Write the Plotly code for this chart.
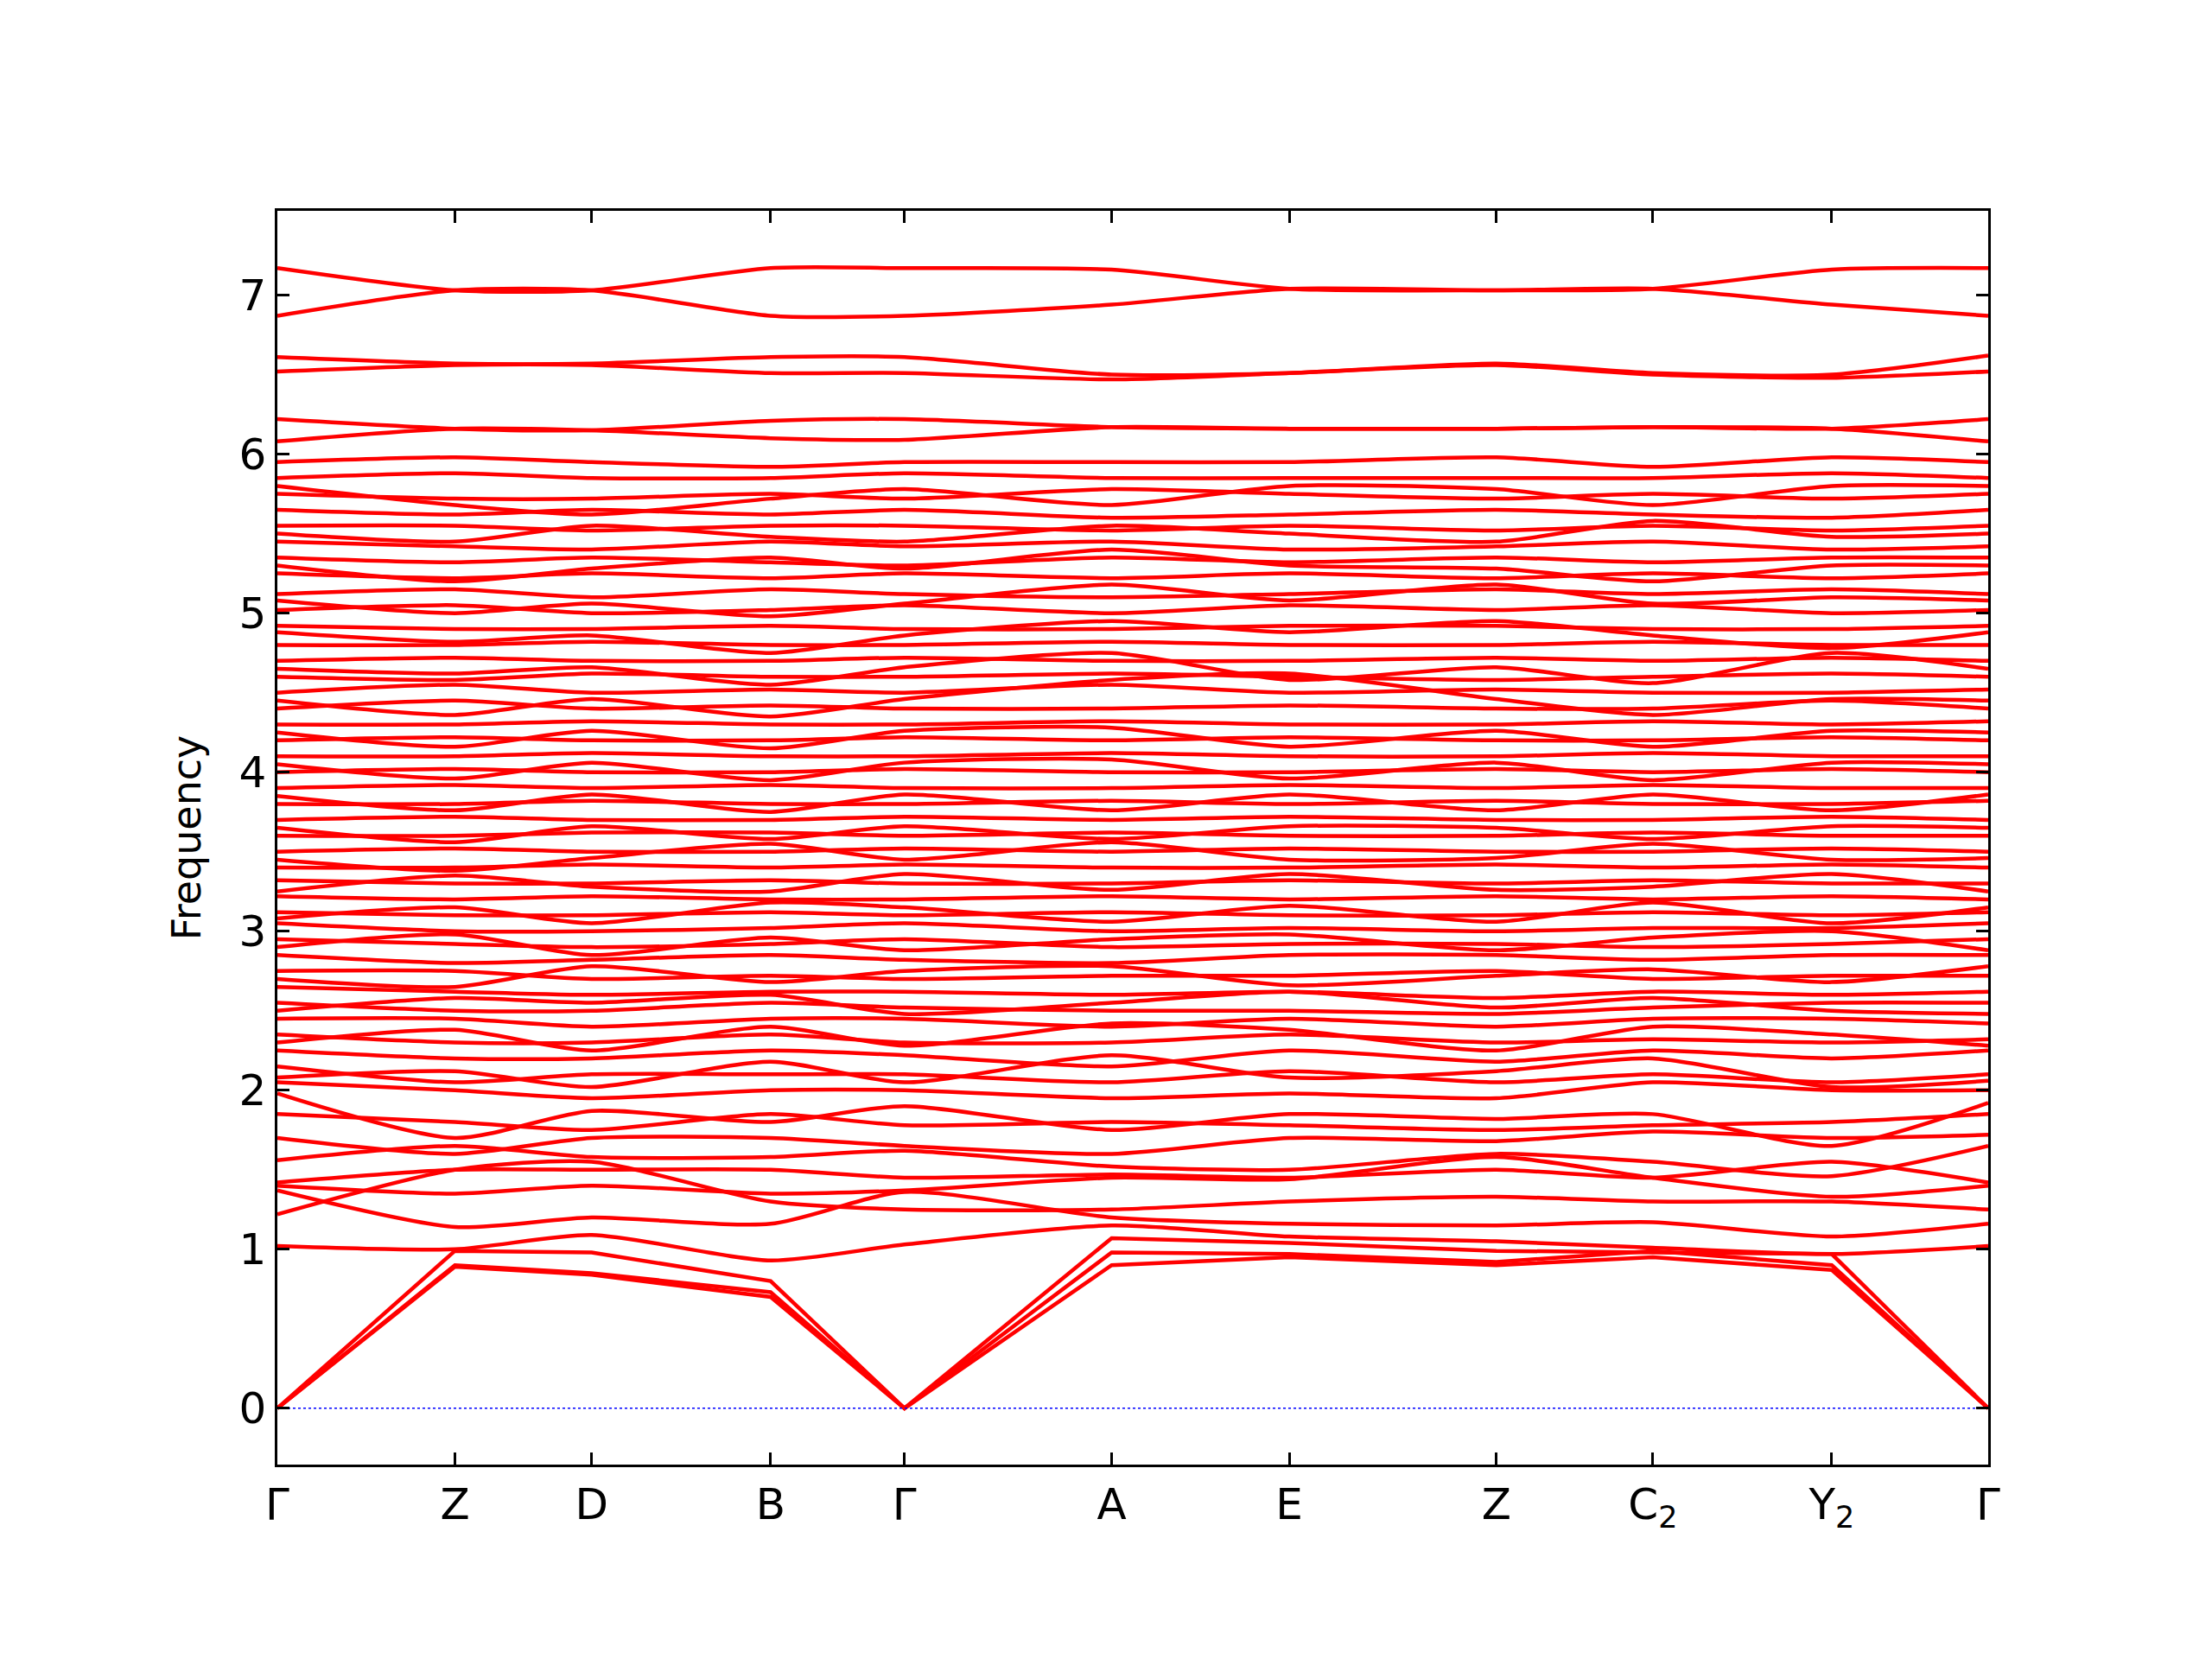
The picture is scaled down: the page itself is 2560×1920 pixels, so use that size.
import plotly.graph_objects as go

# high-symmetry path (cumulative distance, arbitrary units)
kpos = [0, 126, 223, 350, 445, 592, 718, 865, 976, 1103, 1214]
klabels = ["Γ", "Z", "D", "B", "Γ", "A", "E", "Z", "C<sub>2</sub>", "Y<sub>2</sub>", "Γ"]

# frequency of each band at the high-symmetry points
acoustic = [
    [0, 0.89, 0.84, 0.70, 0, 0.90, 0.95, 0.90, 0.95, 0.87, 0],
    [0, 0.90, 0.85, 0.73, 0, 0.98, 0.97, 0.92, 0.99, 0.90, 0],
    [0, 0.99, 0.98, 0.80, 0, 1.07, 1.04, 0.99, 0.98, 0.97, 0],
]

low_bands = [
    [1.02, 1.00, 1.09, 0.93, 1.03, 1.15, 1.08, 1.05, 1.01, 0.97, 1.02],
    [1.37, 1.14, 1.20, 1.16, 1.36, 1.20, 1.16, 1.15, 1.17, 1.08, 1.16],
    [1.42, 1.50, 1.50, 1.50, 1.45, 1.47, 1.45, 1.50, 1.45, 1.55, 1.42],
    [1.40, 1.35, 1.40, 1.35, 1.37, 1.45, 1.44, 1.58, 1.45, 1.33, 1.40],
    [1.22, 1.50, 1.55, 1.30, 1.25, 1.25, 1.30, 1.33, 1.30, 1.30, 1.25],
    [1.56, 1.65, 1.58, 1.58, 1.62, 1.52, 1.50, 1.60, 1.55, 1.46, 1.65],
    [1.70, 1.60, 1.70, 1.70, 1.65, 1.60, 1.70, 1.68, 1.74, 1.70, 1.72],
    [1.85, 1.80, 1.75, 1.85, 1.78, 1.80, 1.78, 1.75, 1.78, 1.80, 1.85],
    [1.98, 1.70, 1.87, 1.80, 1.90, 1.75, 1.85, 1.82, 1.85, 1.65, 1.92],
]

mid_bands = [
    [2.05, 2.00, 1.95, 2.00, 2.00, 1.95, 1.98, 1.95, 2.05, 2.00, 2.00],
    [2.15, 2.05, 2.10, 2.10, 2.10, 2.05, 2.12, 2.05, 2.10, 2.05, 2.10],
    [2.25, 2.20, 2.20, 2.25, 2.22, 2.15, 2.25, 2.18, 2.25, 2.20, 2.25],
    [2.35, 2.30, 2.30, 2.35, 2.30, 2.30, 2.35, 2.30, 2.32, 2.30, 2.32],
    [2.45, 2.45, 2.40, 2.45, 2.45, 2.40, 2.45, 2.40, 2.45, 2.45, 2.42],
    [2.55, 2.50, 2.50, 2.55, 2.52, 2.50, 2.50, 2.48, 2.52, 2.55, 2.55],
    [2.65, 2.62, 2.60, 2.62, 2.62, 2.60, 2.62, 2.58, 2.62, 2.60, 2.62],
    [2.75, 2.75, 2.70, 2.72, 2.70, 2.72, 2.72, 2.75, 2.70, 2.72, 2.72],
    [2.85, 2.80, 2.82, 2.85, 2.82, 2.80, 2.85, 2.85, 2.82, 2.85, 2.85],
    [2.95, 2.92, 2.90, 2.92, 2.95, 2.90, 2.92, 2.92, 2.90, 2.92, 2.95],
    [3.05, 3.00, 3.00, 3.02, 3.05, 3.00, 3.02, 3.00, 3.02, 3.02, 3.05],
    [3.12, 3.10, 3.10, 3.12, 3.10, 3.12, 3.10, 3.10, 3.12, 3.10, 3.12],
    [3.22, 3.20, 3.22, 3.20, 3.20, 3.22, 3.20, 3.22, 3.20, 3.22, 3.20],
    [3.32, 3.30, 3.30, 3.32, 3.30, 3.30, 3.32, 3.30, 3.32, 3.30, 3.30],
    [3.40, 3.40, 3.42, 3.40, 3.42, 3.40, 3.40, 3.42, 3.40, 3.42, 3.40],
    [3.50, 3.52, 3.50, 3.50, 3.52, 3.50, 3.52, 3.50, 3.50, 3.52, 3.50],
    [3.60, 3.60, 3.62, 3.62, 3.60, 3.62, 3.60, 3.60, 3.62, 3.60, 3.60],
    [3.70, 3.72, 3.70, 3.70, 3.72, 3.70, 3.72, 3.70, 3.70, 3.72, 3.70],
    [3.80, 3.80, 3.82, 3.80, 3.80, 3.82, 3.80, 3.82, 3.80, 3.80, 3.82],
    [3.90, 3.92, 3.90, 3.92, 3.90, 3.90, 3.92, 3.90, 3.92, 3.90, 3.90],
    [4.00, 4.02, 4.00, 4.00, 4.02, 4.00, 4.00, 4.02, 4.00, 4.02, 4.00],
    [4.10, 4.10, 4.12, 4.10, 4.10, 4.12, 4.10, 4.10, 4.12, 4.10, 4.10],
    [4.20, 4.22, 4.20, 4.20, 4.22, 4.20, 4.22, 4.20, 4.20, 4.22, 4.20],
    [4.30, 4.30, 4.32, 4.30, 4.30, 4.32, 4.30, 4.30, 4.32, 4.30, 4.32],
    [4.40, 4.45, 4.40, 4.42, 4.40, 4.40, 4.42, 4.40, 4.40, 4.45, 4.40],
    [4.50, 4.55, 4.50, 4.52, 4.50, 4.55, 4.50, 4.52, 4.50, 4.50, 4.52],
    [4.60, 4.58, 4.62, 4.60, 4.60, 4.62, 4.60, 4.58, 4.60, 4.62, 4.60],
    [4.70, 4.72, 4.70, 4.70, 4.72, 4.70, 4.70, 4.72, 4.70, 4.72, 4.70],
    [4.80, 4.80, 4.82, 4.80, 4.80, 4.82, 4.80, 4.80, 4.82, 4.80, 4.80],
    [4.92, 4.90, 4.90, 4.92, 4.90, 4.90, 4.92, 4.92, 4.90, 4.90, 4.92],
    [5.02, 5.05, 5.00, 5.02, 5.05, 5.00, 5.05, 5.02, 5.05, 5.00, 5.02],
    [5.12, 5.15, 5.10, 5.15, 5.12, 5.10, 5.12, 5.15, 5.12, 5.15, 5.12],
    [5.25, 5.22, 5.25, 5.22, 5.25, 5.22, 5.25, 5.22, 5.25, 5.22, 5.25],
    [5.35, 5.32, 5.35, 5.32, 5.30, 5.35, 5.32, 5.35, 5.32, 5.35, 5.35],
    [5.45, 5.42, 5.40, 5.45, 5.42, 5.45, 5.40, 5.42, 5.45, 5.40, 5.42],
    [5.55, 5.55, 5.52, 5.55, 5.55, 5.52, 5.55, 5.52, 5.55, 5.52, 5.55],
    [5.65, 5.62, 5.65, 5.62, 5.65, 5.60, 5.62, 5.65, 5.62, 5.60, 5.65],
    [5.75, 5.72, 5.72, 5.75, 5.72, 5.78, 5.75, 5.72, 5.75, 5.72, 5.75],
    [5.85, 5.88, 5.85, 5.85, 5.88, 5.85, 5.85, 5.85, 5.85, 5.88, 5.85],
    [5.95, 5.98, 5.95, 5.92, 5.95, 5.95, 5.95, 5.98, 5.92, 5.98, 5.95],
]

# extra bands crossing the dense region
dense_bands = [
    [2.08, 2.12, 2.02, 2.18, 2.05, 2.22, 2.08, 2.12, 2.20, 2.02, 2.06],
    [2.30, 2.38, 2.25, 2.40, 2.28, 2.42, 2.38, 2.25, 2.40, 2.35, 2.28],
    [2.50, 2.58, 2.55, 2.60, 2.48, 2.55, 2.62, 2.52, 2.58, 2.50, 2.48],
    [2.70, 2.65, 2.78, 2.68, 2.75, 2.78, 2.66, 2.72, 2.76, 2.68, 2.78],
    [2.90, 2.98, 2.85, 2.96, 2.88, 2.95, 2.98, 2.88, 2.96, 3.00, 2.88],
    [3.08, 3.15, 3.05, 3.18, 3.15, 3.06, 3.16, 3.06, 3.18, 3.05, 3.15],
    [3.25, 3.35, 3.28, 3.25, 3.36, 3.26, 3.36, 3.26, 3.28, 3.36, 3.25],
    [3.45, 3.38, 3.46, 3.55, 3.45, 3.56, 3.45, 3.46, 3.55, 3.45, 3.46],
    [3.65, 3.56, 3.66, 3.58, 3.66, 3.58, 3.66, 3.65, 3.58, 3.66, 3.65],
    [3.85, 3.76, 3.86, 3.75, 3.86, 3.76, 3.86, 3.76, 3.86, 3.76, 3.86],
    [4.05, 3.96, 4.06, 3.95, 4.06, 4.08, 3.96, 4.06, 3.95, 4.06, 4.05],
    [4.25, 4.16, 4.26, 4.15, 4.26, 4.28, 4.16, 4.26, 4.16, 4.26, 4.25],
    [4.45, 4.36, 4.46, 4.35, 4.46, 4.58, 4.62, 4.46, 4.36, 4.46, 4.45],
    [4.65, 4.62, 4.66, 4.55, 4.66, 4.75, 4.58, 4.66, 4.56, 4.75, 4.65],
    [4.88, 4.82, 4.86, 4.75, 4.86, 4.95, 4.88, 4.95, 4.86, 4.78, 4.88],
    [5.08, 5.00, 5.06, 4.98, 5.06, 5.18, 5.08, 5.18, 5.06, 5.10, 5.08],
    [5.30, 5.20, 5.28, 5.35, 5.28, 5.40, 5.30, 5.28, 5.20, 5.30, 5.30],
    [5.50, 5.45, 5.55, 5.48, 5.45, 5.55, 5.50, 5.45, 5.58, 5.48, 5.50],
    [5.80, 5.68, 5.62, 5.72, 5.78, 5.68, 5.80, 5.78, 5.68, 5.80, 5.80],
]

high_bands = [
    [6.08, 6.16, 6.15, 6.10, 6.09, 6.17, 6.16, 6.16, 6.17, 6.16, 6.08],
    [6.22, 6.16, 6.15, 6.21, 6.22, 6.17, 6.16, 6.16, 6.17, 6.16, 6.22],
    [6.52, 6.56, 6.56, 6.51, 6.51, 6.47, 6.51, 6.56, 6.50, 6.48, 6.52],
    [6.61, 6.57, 6.57, 6.61, 6.61, 6.50, 6.51, 6.57, 6.51, 6.50, 6.62],
    [6.87, 7.03, 7.03, 6.87, 6.87, 6.94, 7.04, 7.03, 7.04, 6.94, 6.87],
    [7.17, 7.03, 7.03, 7.17, 7.17, 7.16, 7.04, 7.03, 7.04, 7.16, 7.17],
]

fig = go.Figure()

# acoustic branches meet Γ in a sharp cusp: keep them piecewise straight
for band in acoustic:
    fig.add_trace(go.Scatter(x=kpos, y=band, mode="lines",
                             line=dict(color="red", width=4.5),
                             hoverinfo="skip", showlegend=False))

for band in low_bands + mid_bands + dense_bands + high_bands:
    fig.add_trace(go.Scatter(x=kpos, y=band, mode="lines",
                             line=dict(color="red", width=4.5, shape="spline", smoothing=0.7),
                             hoverinfo="skip", showlegend=False))

# zero-frequency reference
fig.add_trace(go.Scatter(x=[kpos[0], kpos[-1]], y=[0, 0], mode="lines",
                         line=dict(color="blue", width=1.5, dash="dot"),
                         hoverinfo="skip", showlegend=False))

axis_style = dict(showline=True, linecolor="black", linewidth=2.5, mirror="ticks",
                  ticks="inside", ticklen=14, tickwidth=2.5, tickcolor="black",
                  showgrid=False, zeroline=False)

fig.update_xaxes(range=[kpos[0], kpos[-1]], tickvals=kpos, ticktext=klabels,
                 tickfont=dict(size=50), **axis_style)
fig.update_yaxes(range=[-0.354, 7.53], tickvals=list(range(8)), tickfont=dict(size=50),
                 title=dict(text="Frequency", font=dict(size=46), standoff=30), **axis_style)

fig.update_layout(width=2560, height=1920, plot_bgcolor="white", paper_bgcolor="white",
                  font=dict(family="DejaVu Sans", size=50, color="black"),
                  margin=dict(l=313, r=267, t=236, b=233))

fig.write_html("out.html")
